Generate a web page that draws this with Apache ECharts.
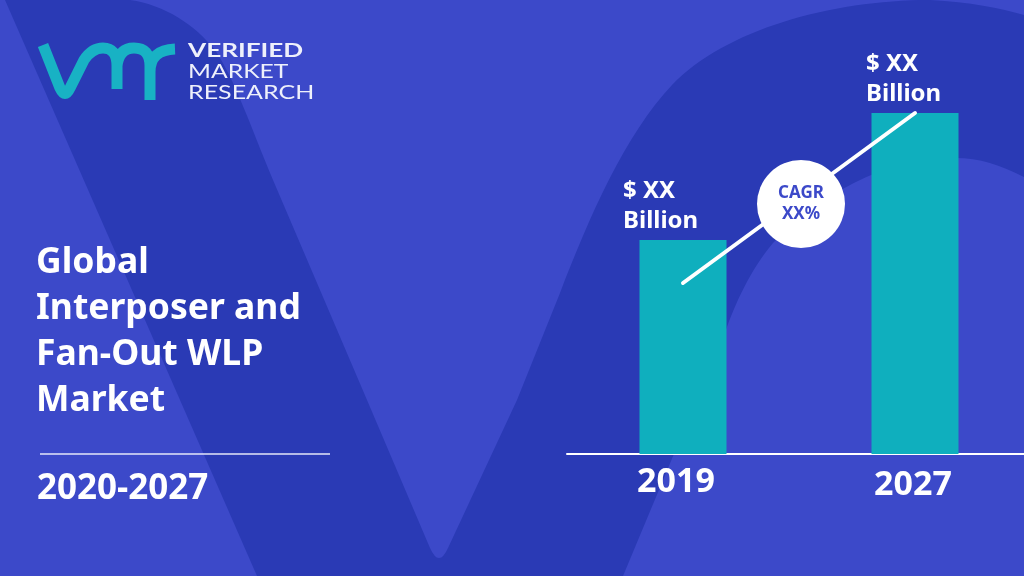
<!DOCTYPE html>
<html>
<head>
<meta charset="utf-8">
<script src="https://cdn.jsdelivr.net/npm/echarts@6/dist/echarts.min.js"></script>
<style>
html,body{margin:0;padding:0;background:#3c49c9}
#chart{width:1024px;height:576px}
</style>
</head>
<body>
<div id="chart"></div>
<script>
var years = ['2019', '2027'];
var barValues = [214, 341];
var trendValues = [171, 341];
var barLabels = ['$ XX\nBillion', '$ XX\nBillion'];
var titleLines = ['Global', 'Interposer and', 'Fan-Out WLP', 'Market'];
var period = '2020-2027';
var logoLines = ['VERIFIED', 'MARKET', 'RESEARCH'];
var cagrLines = ['CAGR', 'XX%'];

var font = '"Noto Sans"';
var light = '#3c49c9';
var dark = '#2a3ab5';
var teal = '#0fafbe';

// big V behind everything
var vPath = 'M5 0 L130 0 C165 5 195 25 215 50 C235 80 250 125 273 180 L367 400 L430 548 ' +
    'Q439 568 448 548 L517 400 L560 293 C590 215 625 135 672 85 C725 30 830 0 930 0 ' +
    'C970 2 1000 8 1024 15 L1024 177 C1000 165 980 158 955 158 C890 155 820 195 773 243 ' +
    'C750 270 735 305 727 327 L623 576 L257 576 Z';

var logoPath = 'M43 45 L60 88 Q65 99 70 88 L84 60 Q92 48 103 48 Q117 48 117 66 L117 89 ' +
    'M117 66 Q119 48 134 48 Q150 48 150 66 L150 100 M150 72 Q150 50 175 49';

function pathSeries(pathData, style, z) {
    return {
        type: 'custom',
        coordinateSystem: 'none',
        silent: true,
        z: z,
        data: [0],
        renderItem: function () {
            return { type: 'path', shape: { pathData: pathData }, style: style };
        }
    };
}

var chart = echarts.init(document.getElementById('chart'));

var option = {
    animation: false,
    backgroundColor: light,
    title: [{
        text: titleLines.join('\n'),
        left: 31,
        top: 235,
        textStyle: { color: '#fff', fontFamily: font, fontWeight: 700, fontSize: 35.5, lineHeight: 46 }
    }, {
        text: period,
        left: 32,
        top: 461,
        textStyle: { color: '#fff', fontFamily: font, fontWeight: 700, fontSize: 35, lineHeight: 46 }
    }],
    // the axis runs off the right edge of the canvas
    grid: { left: 567, top: 54, width: 464, height: 400, outerBoundsMode: 'none' },
    xAxis: {
        type: 'category',
        data: years,
        axisTick: { show: false },
        axisLine: { lineStyle: { color: '#fff', width: 2 } },
        axisLabel: {
            margin: 8,
            formatter: function (v, i) { return '{y' + i + '|' + v + '}'; },
            rich: {
                y0: { color: '#fff', fontFamily: font, fontWeight: 700, fontSize: 34, padding: [3, 14, 0, 0] },
                y1: { color: '#fff', fontFamily: font, fontWeight: 700, fontSize: 34, padding: [6, 4, 0, 0] }
            }
        }
    },
    yAxis: { type: 'value', min: 0, max: 400, show: false },
    series: [
        pathSeries(vPath, { fill: dark, stroke: 'none' }, 0),
        {
            type: 'bar',
            barWidth: 87,
            z: 2,
            itemStyle: { color: teal },
            data: barValues.map(function (v, i) {
                return {
                    value: v,
                    label: {
                        show: true,
                        position: 'top',
                        align: 'left',
                        offset: [i == 0 ? -60 : -49, 1],
                        formatter: barLabels[i],
                        color: '#fff',
                        fontFamily: font,
                        fontWeight: 700,
                        fontSize: 24,
                        lineHeight: 30
                    }
                };
            })
        }, {
            type: 'line',
            data: trendValues,
            symbol: 'none',
            z: 5,
            lineStyle: { color: '#fff', width: 4, cap: 'round' }
        },
        pathSeries(logoPath, { fill: 'none', stroke: '#18b2c4', lineWidth: 11 }, 10)
    ],
    graphic: [
        { type: 'line', z: 10, silent: true, shape: { x1: 40, y1: 454, x2: 330, y2: 454 },
          style: { stroke: '#e4e7f8', lineWidth: 1.5 } },
        { type: 'circle', z: 20, silent: true, shape: { cx: 801, cy: 204, r: 44 }, style: { fill: '#fff' } },
        { type: 'text', z: 21, silent: true, x: 801, y: 204,
          style: { text: cagrLines.join('\n'), fill: '#3c49c9', font: '700 17px ' + font, lineHeight: 21, align: 'center', verticalAlign: 'middle' } },
        { type: 'text', z: 10, silent: true, x: 188, y: 51, scaleX: 1.375,
          style: { text: logoLines[0], fill: '#eef0fb', font: '700 19px Lato', verticalAlign: 'middle' } },
        { type: 'text', z: 10, silent: true, x: 188, y: 72, scaleX: 1.3,
          style: { text: logoLines[1], fill: '#eef0fb', font: '400 19px Lato', verticalAlign: 'middle' } },
        { type: 'text', z: 10, silent: true, x: 188, y: 93, scaleX: 1.315,
          style: { text: logoLines[2], fill: '#eef0fb', font: '400 19px Lato', verticalAlign: 'middle' } }
    ]
};
chart.setOption(option);
</script>
</body>
</html>
